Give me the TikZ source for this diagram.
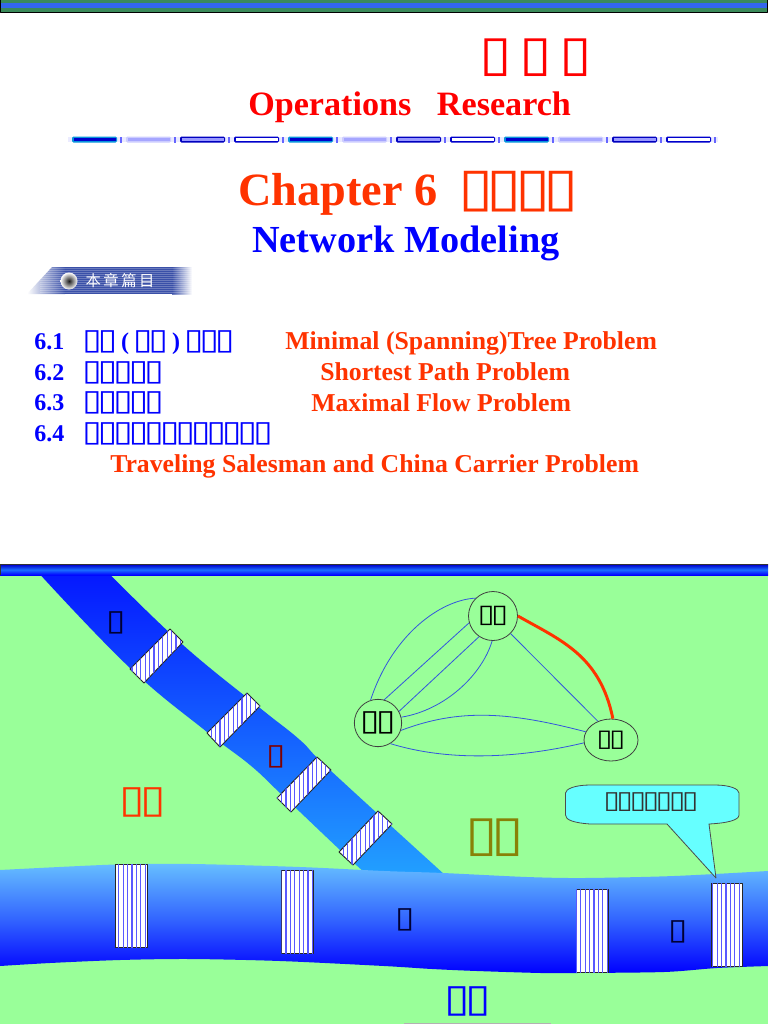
\documentclass[tikz,border=0pt]{standalone}
\usepackage{fontspec}
\setmainfont{Liberation Serif}
\newfontfamily\cjkfont{Noto Sans CJK SC}
\newfontfamily\boxfont[FakeStretch=1.2,LetterSpace=-13]{DejaVu Sans}
\usetikzlibrary{patterns.meta,shapes.geometric}
\definecolor{landgreen}{HTML}{99FF99}
\definecolor{titlered}{HTML}{FF3300}
\definecolor{edgeblue}{HTML}{3355DD}
\definecolor{bannerblue}{HTML}{3A50A8}
\definecolor{bargreen}{HTML}{3A8A5A}
\definecolor{barblue}{HTML}{3366EE}
\definecolor{barmid}{HTML}{1A6EFF}
\definecolor{riverone}{HTML}{0519FF}
\definecolor{rivertwo}{HTML}{22A0FF}
\definecolor{mainlight}{HTML}{66BEFF}
\definecolor{mainmid}{HTML}{3366FF}
\definecolor{notecyan}{HTML}{66FFFF}
\newcommand{\fsize}[1]{\fontsize{#1}{#1}\selectfont}
\newcommand{\cn}[1]{{\boxfont #1}}
\tikzset{
  bridge/.style={draw=black!85,line width=.7pt,fill=white,postaction={pattern={Lines[angle=90,distance=3.3pt,line width=.9pt]},pattern color=blue!65}},
  region/.style={circle,draw=black!75,line width=.6pt,inner sep=0pt},
  link/.style={edgeblue,line width=.6pt},
  headtext/.style={anchor=base west,inner sep=0pt,font=\bfseries},
  listnum/.style={headtext,text=blue,font=\bfseries\fsize{18}},
  listcn/.style={headtext,text=blue,font=\bfseries\fsize{22}},
  listeng/.style={headtext,text=titlered,font=\bfseries\fsize{19.3}},
}
\begin{document}
\begin{tikzpicture}[x=0.75pt,y=-0.75pt,line join=round]
\useasboundingbox (0,0) rectangle (768,1024);
%%top bar and second slide
\fill[white] (0,0) rectangle (768,564);
\fill[bargreen] (0,0) rectangle (768,12);
\fill[barblue] (0,3.5) rectangle (768,8);
\draw[black,semithick] (0.3,0)--(0.3,12)--(767.7,12)--(767.7,0);
\fill[landgreen] (0,575) rectangle (768,1024);
\shade[top color=blue!80!black,bottom color=blue,middle color=barmid] (0,564.5) rectangle (768,575);
\draw[black!80,thin] (0.3,575)--(0.3,564.5)--(768,564.5);
%%divider strip
\fill[blue!8] (68,137) rectangle (718,142);
\foreach \i/\outc/\innc in {0/cyan!80!blue/blue!80!black,1/blue!20/blue!35,2/blue!75!black/blue!40,3/blue!80!black/white,
  4/cyan!80!blue/blue!80!black,5/blue!20/blue!35,6/blue!75!black/blue!40,7/blue!80!black/white,
  8/cyan!80!blue/blue!80!black,9/blue!20/blue!35,10/blue!75!black/blue!40,11/blue!80!black/white}{
  \fill[\outc,rounded corners=1pt] ({72+54*\i},136.5) rectangle ({117+54*\i},142.5);
  \fill[\innc] ({73.5+54*\i},138) rectangle ({115.5+54*\i},141);
  \fill[blue!60] ({120+54*\i},136.5) rectangle ({121.5+54*\i},142.5);
}
%%banner
\shade[left color=white,right color=bannerblue] (27,294)--(52,267)--(65,267)--(65,294)--cycle;
\fill[bannerblue] (65,267) rectangle (172,294);
\shade[left color=bannerblue,right color=white] (172,267) rectangle (192,294);
\foreach \y in {268,270,...,294}
  \draw[white,opacity=.25,thin] (40,\y)--(192,\y);
\shade[inner color=black!90,outer color=white] (69,281) circle (8.5);
\node[text=white,inner sep=0pt,font=\cjkfont\fsize{11.5}] (bannertext) at (120,281) {本\,章\,篇\,目};
%%titles
\node[headtext,text=red,font=\bfseries\fsize{37}] (titlecn) at (479,71) {\cn{▯\hspace{5.7pt}▯\hspace{5.7pt}▯}};
\node[headtext,text=red,font=\bfseries\fsize{25.6}] (titleen) at (248,115) {Operations\ \ \ Research};
\node[headtext,text=titlered,font=\bfseries\fsize{34.7}] (chapter) at (238,205) {Chapter 6\hspace{15.8pt}\cn{\fsize{40}▯▯▯▯}};
\node[headtext,text=blue,font=\bfseries\fsize{28.7}] (network) at (252,252.5) {Network Modeling};
%%chapter list
\node[listnum] (num1) at (34,349) {6.1};
\node[listcn] (cn1) at (82,349) {\cn{▯▯}\fsize{18}\hspace{3pt}(\hspace{3pt}\cn{\fsize{22}▯▯}\fsize{18}\hspace{3pt})\hspace{3pt}\cn{\fsize{22}▯▯▯}};
\node[listeng] (en1) at (285,349.5) {Minimal (Spanning)Tree Problem};
\node[listnum] (num2) at (34,380) {6.2};
\node[listcn] (cn2) at (82,380) {\cn{▯▯▯▯▯}};
\node[listeng] (en2) at (320,380.5) {Shortest Path Problem};
\node[listnum] (num3) at (34,410) {6.3};
\node[listcn] (cn3) at (82,410) {\cn{▯▯▯▯▯}};
\node[listeng] (en3) at (311,411) {Maximal Flow Problem};
\node[listnum] (num4) at (34,441) {6.4};
\node[listcn] (cn4) at (82,441) {\cn{▯▯▯▯▯▯▯▯▯▯▯▯}};
\node[listeng] (en4) at (110,472) {Traveling Salesman and China Carrier Problem};
%%rivers
\shade[top color=riverone,bottom color=rivertwo]
  plot[smooth,tension=.7] coordinates {(41,575.5) (130,668) (207,732) (250,765) (280,793) (340,850) (365,873)}
  -- (445,875) -- plot[smooth,tension=.7] coordinates {(445,875) (330,770) (300,740) (260,708) (183,645) (111,575.5)} -- cycle;
\shade[top color=mainlight,bottom color=blue,middle color=mainmid]
  plot[smooth] coordinates {(0,870) (115,864.5) (192,864) (300,867) (384,871) (443,873) (527,877) (584,878) (674,876) (768,871)}
  -- plot[smooth] coordinates {(768,966) (717,968) (664,972) (576,973) (541,973) (477,971) (432,969) (384,966) (280,961) (190,959) (120,960) (50,963) (0,966)} -- cycle;
%%bridges
\draw[bridge] (170,629)--(183,642)--(144,683)--(130,669)--cycle;
\draw[bridge] (247,693)--(260,706)--(220,747)--(207,733)--cycle;
\draw[bridge] (317,757)--(331,770)--(291,812)--(277,798)--cycle;
\draw[bridge] (378,811)--(392,824)--(353,865)--(339,852)--cycle;
\draw[bridge] (115.5,864) rectangle (147,947);
\draw[bridge] (281.5,870) rectangle (313.5,953);
\draw[bridge] (576,889) rectangle (608,972);
\draw[bridge] (711,883) rectangle (742,966);
%%river and land labels
\node[inner sep=0pt,font=\fsize{22},text=black!80!blue] (river1) at (116,623) {\cn{▯}};
\node[inner sep=0pt,font=\fsize{22},text=red!50!black] (river2) at (276,757) {\cn{▯}};
\node[inner sep=0pt,font=\fsize{22},text=black!80!blue] (river3) at (405,920) {\cn{▯}};
\node[inner sep=0pt,font=\fsize{22},text=black!80!blue] (river4) at (678,932) {\cn{▯}};
\node[inner sep=0pt,font=\fsize{29},text=titlered] (north) at (143,802) {\cn{▯▯}};
\node[inner sep=0pt,font=\fsize{37},text=olive!95!black] (east) at (495,838) {\cn{▯▯}};
\node[inner sep=0pt,font=\fsize{29},text=blue] (south) at (468,1001) {\cn{▯▯}};
%%graph
\node[region,minimum size=36.75pt] (vtop) at (493,616) {\fsize{19}\cn{▯▯}};
\node[region,minimum size=35.5pt] (vleft) at (378,723) {\fsize{22}\cn{▯▯}};
\node[ellipse,draw=black!75,line width=.6pt,inner sep=0pt,minimum width=40.5pt,minimum height=31.5pt] (vright) at (611,740) {\fsize{18}\cn{▯▯}};
\draw[link] (vtop.134) .. controls (440,600) and (392,635) .. (vleft.108);
\draw[link] (vtop.196) -- (vleft.75);
\draw[link] (vtop.236) -- (vleft.29);
\draw[link] (vtop.268) .. controls (482,675) and (445,710) .. (vleft.14);
\draw[link] (vleft.342) .. controls (460,708) and (510,712) .. (vright.162);
\draw[link] (vleft.301) .. controls (450,762) and (520,758) .. (vright.186);
\draw[link] (vtop.315) -- (vright.125);
\draw[titlered,line width=2.2pt] (vtop.0) .. controls (560,640) and (600,655) .. (vright.85);
%%callout
\draw[black!70,line width=.6pt,fill=notecyan] (590,785) -- (715,785)
  .. controls (730,785) and (739,789) .. (739,793) -- (739,815) .. controls (739,820) and (728,823) .. (709,824)
  -- (716,878) -- (667,824) -- (590,824) .. controls (575,823) and (565,820) .. (565.5,815)
  -- (565.5,793) .. controls (565.5,789) and (575,785) .. (590,785) -- cycle;
\node[inner sep=0pt,font=\fsize{18.5},text=black!80] (note) at (651,802) {\cn{▯▯▯▯▯▯▯}};
\draw[black!30] (404,1023.5) -- (551,1023.5);
\end{tikzpicture}
\end{document}
